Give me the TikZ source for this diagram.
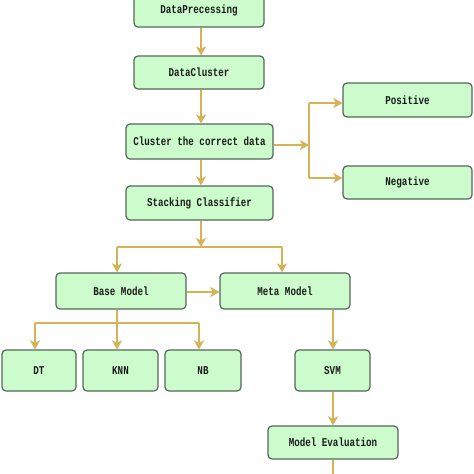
\documentclass[tikz,border=0pt]{standalone}
\usepackage{fontspec}
\usepackage{graphicx}
\setmonofont{Liberation Mono}
\usetikzlibrary{arrows.meta}
\definecolor{boxfill}{HTML}{CCFCCC}
\definecolor{boxdraw}{HTML}{55665A}
\definecolor{arrcol}{HTML}{D4B255}
\definecolor{txtcol}{HTML}{1A1A1A}
\newcommand\tallbl[1]{\scalebox{1}[1.3]{#1}}
\tikzset{
  box/.style={draw=boxdraw, fill=boxfill, line width=1.2pt, rounded corners=4pt,
    inner sep=0pt, font=\ttfamily\bfseries\fontsize{9.2}{10}\selectfont, text=txtcol},
  conn/.style={draw=arrcol, line width=2pt},
  arr/.style={conn, -{Stealth[length=9pt,width=10pt,inset=2.5pt]}}
}
\begin{document}
\begin{tikzpicture}[x=1pt,y=-1pt]
\useasboundingbox (0,0) rectangle (474,474);
\fill[white] (0,0) rectangle (474,474);
% nodes
\node[box, minimum width=130pt, minimum height=34pt] (dp) at (199,10) {\tallbl{DataPrecessing}};
\node[box, minimum width=130pt, minimum height=33pt] (dc) at (199,72.5) {\tallbl{DataCluster}};
\node[box, minimum width=147pt, minimum height=35pt] (cl) at (199.5,141.5) {\tallbl{Cluster the correct data}};
\node[box, minimum width=147pt, minimum height=34pt] (sc) at (199.5,203) {\tallbl{Stacking Classifier}};
\node[box, minimum width=129pt, minimum height=34pt] (pos) at (407.5,100) {\tallbl{Positive}};
\node[box, minimum width=129pt, minimum height=33pt] (neg) at (407.5,182.5) {\tallbl{Negative}};
\node[box, minimum width=130pt, minimum height=36pt] (bm) at (121,291) {\tallbl{Base Model}};
\node[box, minimum width=130pt, minimum height=36pt] (mm) at (285,291) {\tallbl{Meta Model}};
\node[box, minimum width=74pt, minimum height=41pt] (dt) at (39,370.5) {\tallbl{DT}};
\node[box, minimum width=75pt, minimum height=41pt] (knn) at (120.5,370.5) {\tallbl{KNN}};
\node[box, minimum width=76pt, minimum height=41pt] (nb) at (203,370.5) {\tallbl{NB}};
\node[box, minimum width=75pt, minimum height=41pt] (svm) at (332.5,370.5) {\tallbl{SVM}};
\node[box, minimum width=130pt, minimum height=33pt] (me) at (333,442.5) {\tallbl{Model Evaluation}};
% helper coordinates
\coordinate (mx) at (201,0);
\coordinate (px) at (309,0);
\coordinate (py1) at (0,103);
\coordinate (py2) at (0,178);
\coordinate (py0) at (0,145);
\coordinate (j1) at (201,247);
\coordinate (bx) at (117,0);
\coordinate (mmx) at (282,0);
\coordinate (j2) at (117,323);
\coordinate (dx) at (35,0);
\coordinate (nx) at (199,0);
\coordinate (sx) at (333,0);
\coordinate (bot) at (333,480);
% connectors
\draw[arr] (dp.south -| mx) -- (dc.north -| mx);
\draw[arr] (dc.south -| mx) -- (cl.north -| mx);
\draw[arr] (cl.south -| mx) -- (sc.north -| mx);
\draw[arr] (cl.east |- py0) -- (px |- py0);
\draw[conn] (px |- py1) -- (px |- py2);
\draw[arr] (px |- py1) -- (pos.west |- py1);
\draw[arr] (px |- py2) -- (neg.west |- py2);
\draw[arr] (sc.south -| mx) -- (j1);
\draw[conn] (bx |- j1) -- (mmx |- j1);
\draw[arr] (bx |- j1) -- (bm.north -| bx);
\draw[arr] (mmx |- j1) -- (mm.north -| mmx);
\draw[arr] (bm.east |- 0,292) -- (mm.west |- 0,292);
\draw[conn] (bm.south -| bx) -- (j2);
\draw[conn] (dx |- j2) -- (nx |- j2);
\draw[arr] (dx |- j2) -- (dt.north -| dx);
\draw[arr] (j2) -- (knn.north -| bx);
\draw[arr] (nx |- j2) -- (nb.north -| nx);
\draw[arr] (mm.south -| sx) -- (svm.north -| sx);
\draw[arr] (svm.south -| sx) -- (me.north -| sx);
\draw[conn] (me.south -| sx) -- (bot);
\end{tikzpicture}
\end{document}
